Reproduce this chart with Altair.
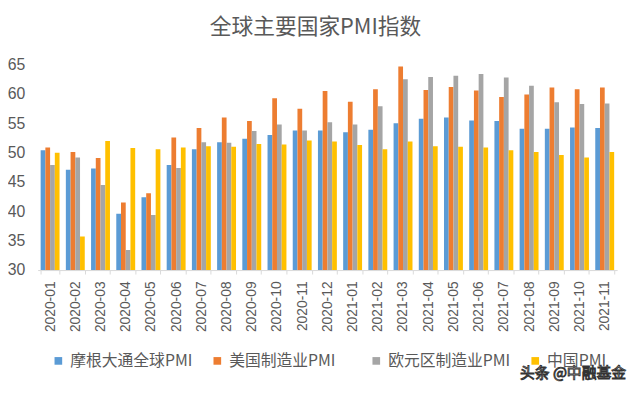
import altair as alt
import pandas as pd

months = ["2020-01", "2020-02", "2020-03", "2020-04", "2020-05", "2020-06",
          "2020-07", "2020-08", "2020-09", "2020-10", "2020-11", "2020-12",
          "2021-01", "2021-02", "2021-03", "2021-04", "2021-05", "2021-06",
          "2021-07", "2021-08", "2021-09", "2021-10", "2021-11"]
series_names = ["摩根大通全球PMI", "美国制造业PMI", "欧元区制造业PMI", "中国PMI"]
jpm_global = [50.4, 47.1, 47.3, 39.6, 42.4, 47.9, 50.6, 51.8, 52.4, 53.0, 53.8, 53.8,
              53.5, 53.9, 55.0, 55.8, 56.0, 55.5, 55.4, 54.1, 54.1, 54.3, 54.2]
us_mfg = [50.9, 50.1, 49.1, 41.5, 43.1, 52.6, 54.2, 56.0, 55.4, 59.3, 57.5, 60.5,
          58.7, 60.8, 64.7, 60.7, 61.2, 60.6, 59.5, 59.9, 61.1, 60.8, 61.1]
euro_mfg = [47.9, 49.2, 44.5, 33.4, 39.4, 47.4, 51.8, 51.7, 53.7, 54.8, 53.8, 55.2,
            54.8, 57.9, 62.5, 62.9, 63.1, 63.4, 62.8, 61.4, 58.6, 58.3, 58.4]
china = [50.0, 35.7, 52.0, 50.8, 50.6, 50.9, 51.1, 51.0, 51.5, 51.4, 52.1, 51.9,
         51.3, 50.6, 51.9, 51.1, 51.0, 50.9, 50.4, 50.1, 49.6, 49.2, 50.1]
colors = ["#5B9BD5", "#ED7D31", "#A5A5A5", "#FFC000"]
title_text = "全球主要国家PMI指数"
watermark = "头条 @中融基金"

rows = []
for name, vals in zip(series_names, [jpm_global, us_mfg, euro_mfg, china]):
    for m, v in zip(months, vals):
        rows.append({"month": m, "series": name, "value": v})
df = pd.DataFrame(rows)

FONT_CJK = "Noto Sans CJK SC"
FONT_NUM = "Liberation Sans"
GRAY = "#595959"

bars = alt.Chart(df).mark_bar(clip=True).encode(
    x=alt.X("month:N", sort=months, title=None,
            scale=alt.Scale(paddingInner=0.25, paddingOuter=0.12),
            axis=alt.Axis(labelAngle=-90, labelFont=FONT_NUM, labelFontSize=14,
                          labelColor=GRAY, tickBand="extent", tickSize=4,
                          tickColor="#D9D9D9", domainColor="#D9D9D9",
                          labelPadding=7, labelBaseline="middle")),
    xOffset=alt.XOffset("series:N", sort=series_names,
                        scale=alt.Scale(domain=series_names, paddingInner=0)),
    y=alt.Y("value:Q", title=None,
            scale=alt.Scale(domain=[30, 65], zero=False, nice=False),
            axis=alt.Axis(values=[30, 35, 40, 45, 50, 55, 60, 65], grid=False,
                          domain=False, ticks=False, labelFont=FONT_NUM,
                          labelFontSize=16, labelColor=GRAY, labelPadding=13)),
    color=alt.Color("series:N", sort=series_names,
                    scale=alt.Scale(domain=series_names, range=colors),
                    legend=alt.Legend(title=None, orient="none", legendX=13, legendY=292,
                                      direction="horizontal", columns=4, gridAlign="all",
                                      columnPadding=17, symbolType="square",
                                      symbolSize=60, symbolStrokeWidth=0,
                                      labelFont=FONT_CJK, labelFontSize=16,
                                      labelColor=GRAY, labelOffset=4, padding=0,
                                      labelLimit=200)),
)

wm = alt.Chart(pd.DataFrame({"t": [watermark]})).mark_text(
    font=FONT_CJK, fontSize=15, align="right", baseline="middle",
    fill="#ffffff", stroke="#333333", strokeWidth=0.9,
).encode(text="t:N", x=alt.value(596), y=alt.value(312))

chart = alt.layer(bars, wm).properties(
    width=587, height=208,
    autosize=alt.AutoSizeParams(type="none"),
    padding={"left": 30, "top": 55, "right": 15, "bottom": 115},
    title=alt.Title(title_text, font=FONT_CJK, fontSize=22, fontWeight="normal",
                    color=GRAY, anchor="middle", offset=18, dx=-12),
).configure_view(stroke=None)

chart.save("out.html", embed_options={"renderer": "svg", "actions": False})
